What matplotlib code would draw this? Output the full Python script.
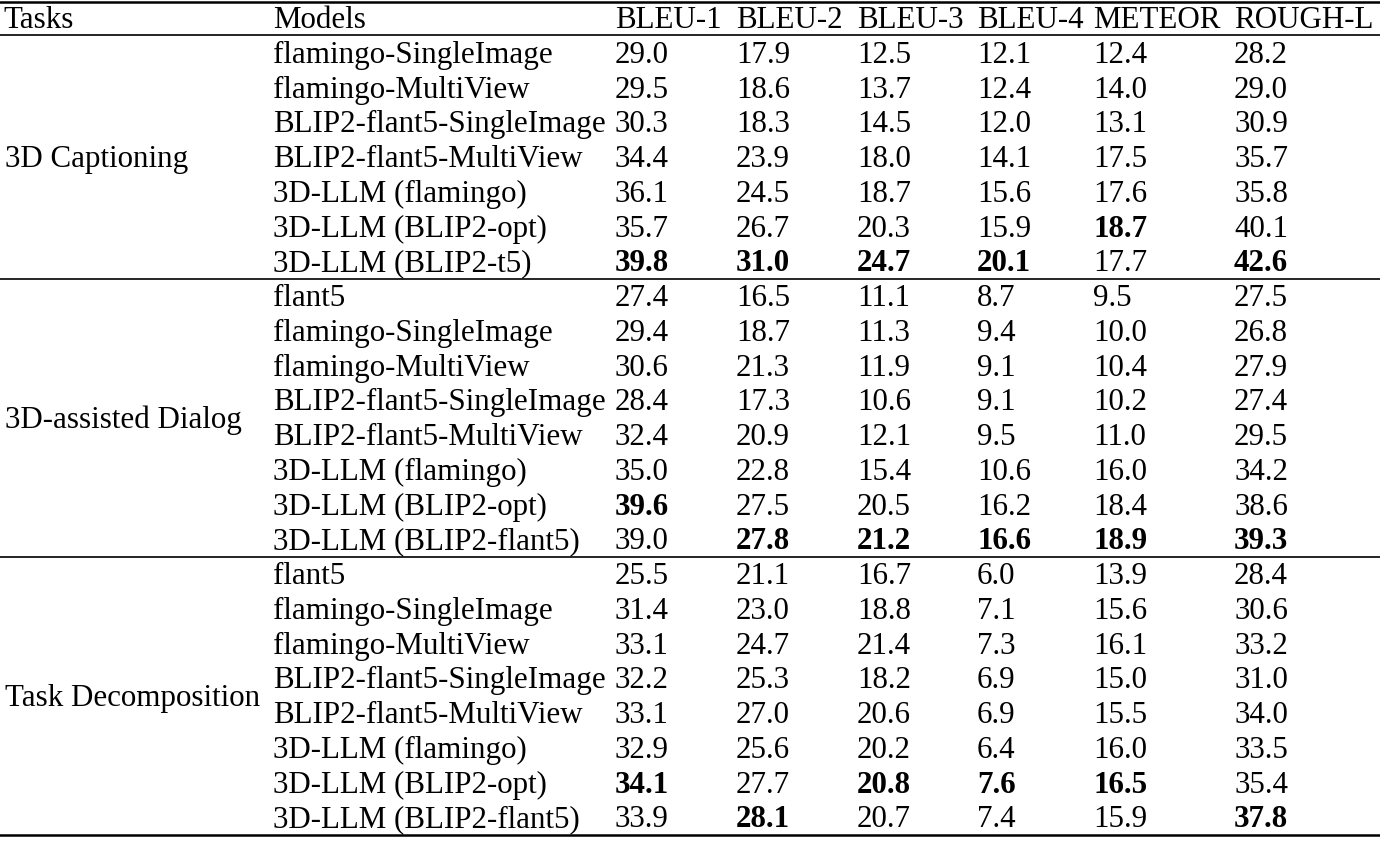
import matplotlib
matplotlib.use("Agg")
import matplotlib.pyplot as plt

# ---------------------------
# --- TABLE DATA ---
# ---------------------------
metrics = ["BLEU-1", "BLEU-2", "BLEU-3", "BLEU-4", "METEOR", "ROUGH-L"]
tasks = ["3D Captioning", "3D-assisted Dialog", "Task Decomposition"]

models_caption = ["flamingo-SingleImage", "flamingo-MultiView", "BLIP2-flant5-SingleImage",
                  "BLIP2-flant5-MultiView", "3D-LLM (flamingo)", "3D-LLM (BLIP2-opt)", "3D-LLM (BLIP2-t5)"]
scores_caption = [[29.0, 17.9, 12.5, 12.1, 12.4, 28.2],
                  [29.5, 18.6, 13.7, 12.4, 14.0, 29.0],
                  [30.3, 18.3, 14.5, 12.0, 13.1, 30.9],
                  [34.4, 23.9, 18.0, 14.1, 17.5, 35.7],
                  [36.1, 24.5, 18.7, 15.6, 17.6, 35.8],
                  [35.7, 26.7, 20.3, 15.9, 18.7, 40.1],
                  [39.8, 31.0, 24.7, 20.1, 17.7, 42.6]]
bold_caption = [(5, 4), (6, 0), (6, 1), (6, 2), (6, 3), (6, 5)]

models_dialog = ["flant5", "flamingo-SingleImage", "flamingo-MultiView", "BLIP2-flant5-SingleImage",
                 "BLIP2-flant5-MultiView", "3D-LLM (flamingo)", "3D-LLM (BLIP2-opt)", "3D-LLM (BLIP2-flant5)"]
scores_dialog = [[27.4, 16.5, 11.1, 8.7, 9.5, 27.5],
                 [29.4, 18.7, 11.3, 9.4, 10.0, 26.8],
                 [30.6, 21.3, 11.9, 9.1, 10.4, 27.9],
                 [28.4, 17.3, 10.6, 9.1, 10.2, 27.4],
                 [32.4, 20.9, 12.1, 9.5, 11.0, 29.5],
                 [35.0, 22.8, 15.4, 10.6, 16.0, 34.2],
                 [39.6, 27.5, 20.5, 16.2, 18.4, 38.6],
                 [39.0, 27.8, 21.2, 16.6, 18.9, 39.3]]
bold_dialog = [(6, 0), (7, 1), (7, 2), (7, 3), (7, 4), (7, 5)]

models_decomp = models_dialog
scores_decomp = [[25.5, 21.1, 16.7, 6.0, 13.9, 28.4],
                 [31.4, 23.0, 18.8, 7.1, 15.6, 30.6],
                 [33.1, 24.7, 21.4, 7.3, 16.1, 33.2],
                 [32.2, 25.3, 18.2, 6.9, 15.0, 31.0],
                 [33.1, 27.0, 20.6, 6.9, 15.5, 34.0],
                 [32.9, 25.6, 20.2, 6.4, 16.0, 33.5],
                 [34.1, 27.7, 20.8, 7.6, 16.5, 35.4],
                 [33.9, 28.1, 20.7, 7.4, 15.9, 37.8]]
bold_decomp = [(6, 0), (6, 2), (6, 3), (6, 4), (7, 1), (7, 5)]

groups = [(models_caption, scores_caption, bold_caption),
          (models_dialog, scores_dialog, bold_dialog),
          (models_decomp, scores_decomp, bold_decomp)]

# ---------------------------
# --- LAYOUT ---
# ---------------------------
plt.rcParams['font.family'] = ['Liberation Serif', 'DejaVu Serif']
FS = 22.3
task_x = 5
model_x = 273
metric_x = [615, 736, 857, 977, 1093, 1234]
base = 0.29  # baseline offset below row centre (in rows)

fig = plt.figure(figsize=(13.8, 8.42), dpi=100)
ax = fig.add_axes([0, 0, 1, 1])
ax.set_xlim(0, 1380)
# one unit per table row, row 0 is the header
row_h = 34.75
ax.set_ylim((842 - 18) / row_h, -18 / row_h)
ax.axis('off')


def cell(x, y, s, weight='normal'):
    ax.text(x, y + base, s, fontsize=FS, va='baseline', ha='left', fontweight=weight)


# header
cell(3, 0, "Tasks")
cell(model_x, 0, "Models")
for x, m in zip(metric_x, metrics):
    cell(x, 0, m)

row = 1
group_breaks = []
for task, (models, scores, bolds) in zip(tasks, groups):
    start = row
    for i, (model, vals) in enumerate(zip(models, scores)):
        cell(model_x, row, model)
        for j, v in enumerate(vals):
            cell(metric_x[j], row, "{:.1f}".format(v), 'bold' if (i, j) in bolds else 'normal')
        row += 1
    cell(task_x, (start + row - 1) / 2, task)
    group_breaks.append(row - 0.5)

# rules
ax.axhline(-0.45, color='black', lw=1.8)
ax.axhline(0.5, color='black', lw=1.2)
for yb in group_breaks[:-1]:
    ax.axhline(yb, color='black', lw=1.2)
ax.axhline(group_breaks[-1], color='black', lw=1.8)

fig.savefig("out.png", dpi=100)
